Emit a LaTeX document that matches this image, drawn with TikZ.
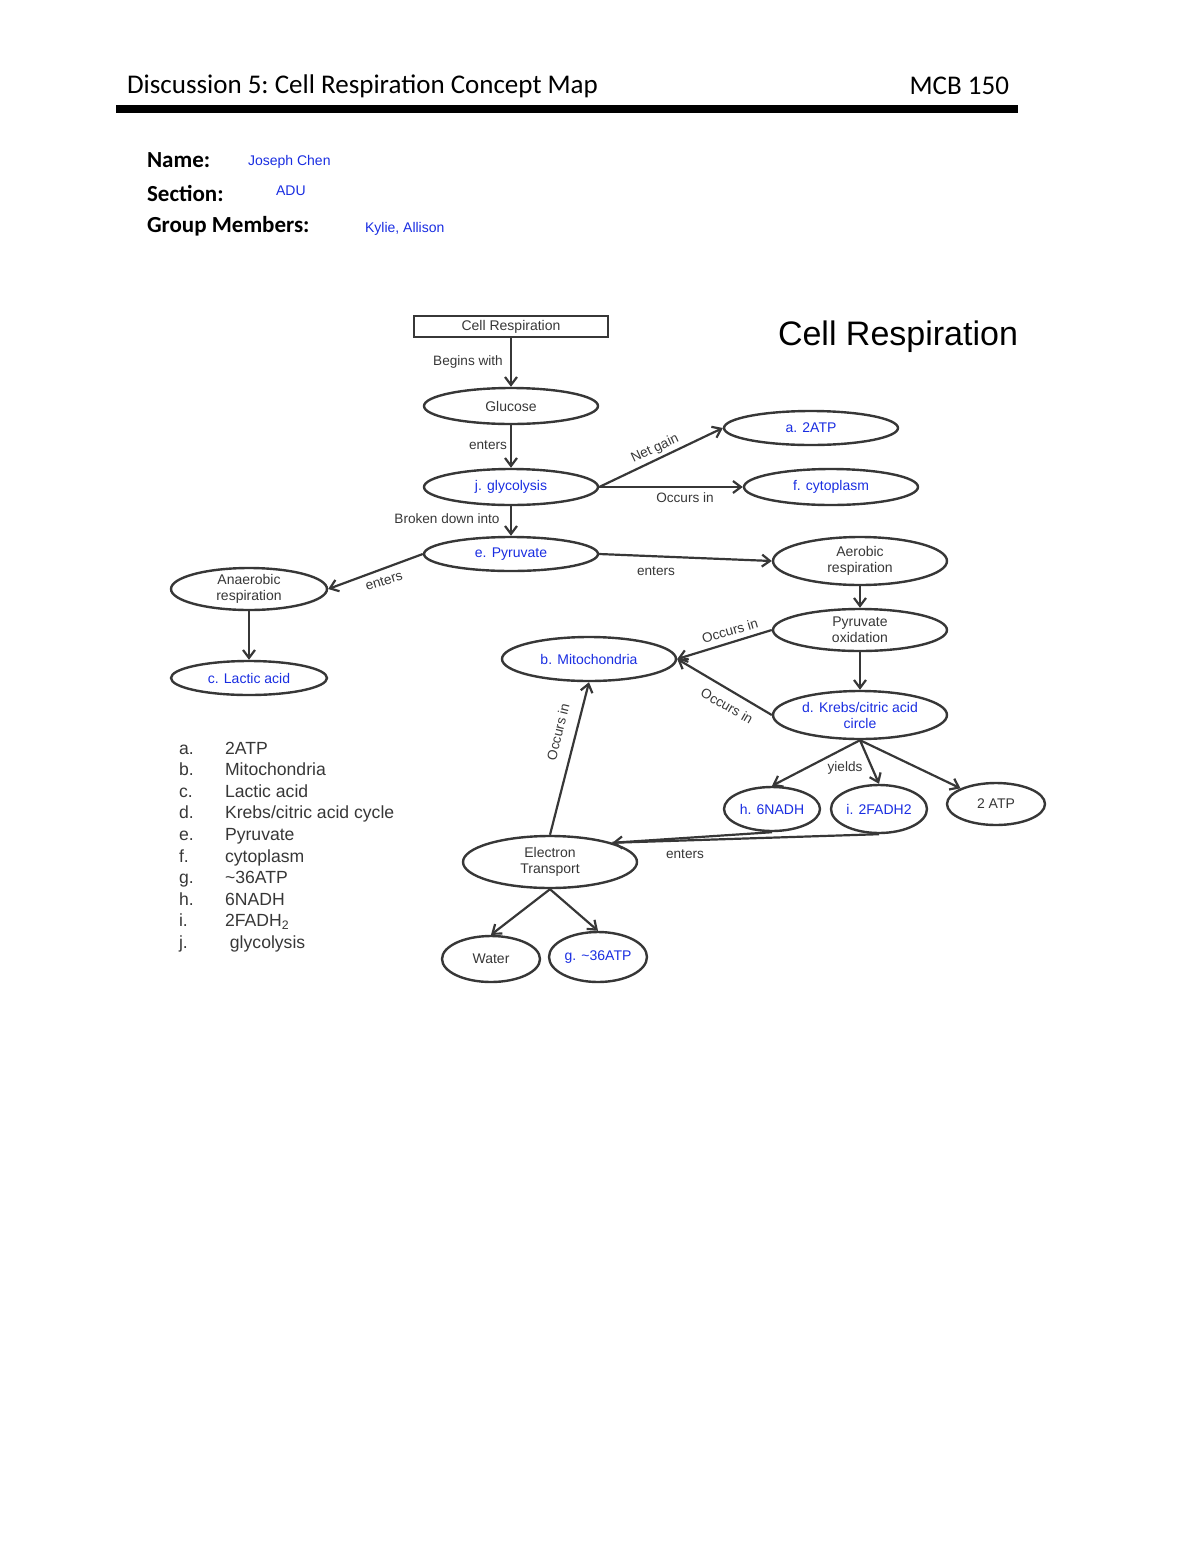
\documentclass[tikz,border=0pt]{standalone}
\usepackage{fontspec}
\setmainfont{Liberation Sans}
\newfontfamily\hdr{Carlito}
\usetikzlibrary{shapes.geometric,arrows.meta}
\definecolor{bl}{RGB}{25,45,225}
\definecolor{ln}{RGB}{55,55,55}
\tikzset{
 el/.style={ellipse,draw=ln,line width=1.2pt,inner sep=0pt,font=\fontsize{7}{8}\selectfont,align=center,text=ln},
 bt/.style={text=bl},
 ar/.style={draw=ln,line width=1.1pt,-{Straight Barb[length=4pt,width=6pt]}},
 pl/.style={draw=ln,line width=1.1pt},
 lb/.style={font=\fontsize{6.8}{8}\selectfont,text=ln},
 lg/.style={font=\fontsize{8.8}{10}\selectfont,text=ln,anchor=base west}
}
\begin{document}
\begin{tikzpicture}[x=0.5pt,y=-0.5pt]
\useasboundingbox (0,0) rectangle (1200,1553);
% header
\node[anchor=west,font=\hdr\fontsize{13.5}{15}\selectfont] (h1) at (120,86) {Discussion 5:\ Cell Respiration Concept Map};
\node[anchor=east,font=\hdr\fontsize{13.5}{15}\selectfont] (h2) at (1016,86) {MCB 150};
\fill (116,105) rectangle (1018,113);
\node[anchor=west,font=\hdr\bfseries\fontsize{11.5}{13}\selectfont] (n1) at (140,160) {Name:};
\node[anchor=west,font=\hdr\bfseries\fontsize{11.5}{13}\selectfont] (n2) at (140,193) {Section:};
\node[anchor=west,font=\hdr\bfseries\fontsize{11.5}{13}\selectfont] (n3) at (140,226) {Group Members:};
\node[anchor=west,bt,font=\fontsize{7}{8}\selectfont] (v1) at (241,162) {Joseph Chen};
\node[anchor=west,bt,font=\fontsize{7}{8}\selectfont] (v2) at (269,191) {ADU};
\node[anchor=west,bt,font=\fontsize{7}{8}\selectfont] (v3) at (358,229) {Kylie, Allison};
\node[font=\fontsize{17}{19}\selectfont] (title) at (898,337) {Cell Respiration};
% nodes
\node[draw=ln,line width=1.2pt,minimum width=97pt,minimum height=10.5pt,inner sep=0pt,font=\fontsize{7}{8}\selectfont,text=ln] (cr) at (511,326.5) {Cell Respiration};
\node[el,minimum width=87pt,minimum height=18pt] (glu) at (511,406) {Glucose};
\node[el,minimum width=87pt,minimum height=18pt,bt] (gly) at (511,487) {j. glycolysis};
\node[el,minimum width=87pt,minimum height=17pt,bt] (pyr) at (511,554) {e. Pyruvate};
\node[el,minimum width=87pt,minimum height=17pt,bt] (atp) at (811,428) {a. 2ATP};
\node[el,minimum width=87pt,minimum height=18pt,bt] (cyt) at (831,487) {f. cytoplasm};
\node[el,minimum width=87pt,minimum height=24pt] (aer) at (860,561) {Aerobic\\respiration};
\node[el,minimum width=78pt,minimum height=21pt] (ana) at (249,589) {Anaerobic\\respiration};
\node[el,minimum width=78pt,minimum height=17pt,bt] (lac) at (249,678) {c. Lactic acid};
\node[el,minimum width=87pt,minimum height=21pt] (pox) at (860,630) {Pyruvate\\oxidation};
\node[el,minimum width=87pt,minimum height=22pt,bt] (mit) at (589,659) {b. Mitochondria};
\node[el,minimum width=87pt,minimum height=24pt,bt] (kre) at (860,715) {d. Krebs/citric acid\\circle};
\node[el,minimum width=48pt,minimum height=22pt,bt] (nad) at (772,809) {h. 6NADH};
\node[el,minimum width=48pt,minimum height=24pt,bt] (fad) at (879,809) {i. 2FADH2};
\node[el,minimum width=49pt,minimum height=21pt] (two) at (996,804) {2 ATP};
\node[el,minimum width=87pt,minimum height=26pt] (et) at (550,862) {Electron\\Transport};
\node[el,minimum width=49pt,minimum height=23pt] (wat) at (491,959) {Water};
\node[el,minimum width=49pt,minimum height=25pt,bt] (g36) at (598,957) {g. \textasciitilde36ATP};
% edges
\draw[ar] (cr) -- (glu);
\draw[ar] (glu) -- (gly);
\draw[ar] (gly) -- (pyr);
\draw[ar] (gly.east) -- (atp.west);
\draw[ar] (gly.east) -- (cyt.west);
\draw[ar] (pyr.east) -- (aer.west);
\draw[ar] (pyr.west) -- (ana.east);
\draw[ar] (ana) -- (lac);
\draw[ar] (aer) -- (pox);
\draw[ar] (pox) -- (kre);
\draw[ar] (pox.west) -- (mit.east);
\draw[ar] (kre.west) -- (mit.east);
\draw[ar] (kre.south) -- (nad.north);
\draw[ar] (kre.south) -- (fad.north);
\draw[ar] (kre.south) -- (two.north west);
\draw[pl] (nad.south) -- (et.north east);
\draw[ar] (fad.south) -- (et.north east);
\draw[ar] (et.north) -- (mit.south);
\draw[ar] (et.south) -- (wat.north);
\draw[ar] (et.south) -- (g36.north);
% labels
\node[lb] (l1) at (468,362) {Begins with};
\node[lb] (l2) at (488,445) {enters};
\node[lb] (l3) at (447,519) {Broken down into};
\node[lb,rotate=25] (l4) at (655,449) {Net gain};
\node[lb] (l5) at (685,498) {Occurs in};
\node[lb] (l6) at (656,571) {enters};
\node[lb,rotate=17] (l7) at (384,581) {enters};
\node[lb,rotate=16] (l8) at (730,631) {Occurs in};
\node[lb,rotate=-30] (l9) at (727,706) {Occurs in};
\node[lb] (l10) at (845,768) {yields};
\node[lb] (l11) at (685,854) {enters};
\node[lb,rotate=76] (l12) at (558,732) {Occurs in};
% legend
\foreach \k/\t [count=\i from 0] in {a./2ATP,b./Mitochondria,c./Lactic acid,d./{Krebs/citric acid cycle},e./Pyruvate,f./cytoplasm,g./\textasciitilde36ATP,h./6NADH,i./2FADH\textsubscript{2},j./\ glycolysis}{
 \node[lg] (k\i) at (172,{754+21.6*\i}) {\k};
 \node[lg] (t\i) at (218,{754+21.6*\i}) {\t};
}
\end{tikzpicture}
\end{document}
